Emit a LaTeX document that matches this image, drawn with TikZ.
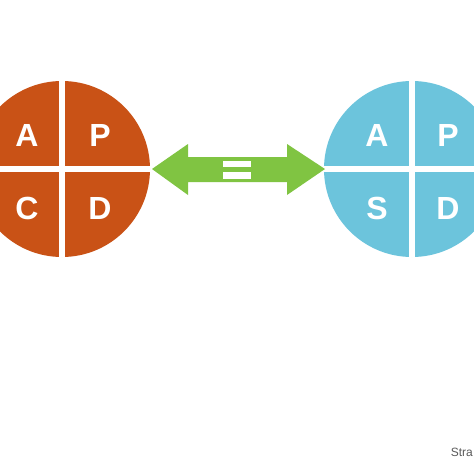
\documentclass[tikz,border=0pt]{standalone}
\usepackage{fontspec}
\setmainfont{Liberation Sans}
\definecolor{pdcaorange}{RGB}{201,82,22}
\definecolor{pdcablue}{RGB}{108,196,220}
\definecolor{pdcagreen}{RGB}{128,196,66}
\definecolor{srcgray}{RGB}{90,90,90}
\begin{document}
\begin{tikzpicture}[x=1pt,y=-1pt,
  disc/.style={circle,inner sep=0pt,minimum size=176pt},
  letter/.style={text=white,font=\fontsize{32}{32}\selectfont\bfseries},
  gap/.style={white,line width=6pt}]
\useasboundingbox (0,0) rectangle (474,474);
\clip (0,0) rectangle (474,474);
\fill[white] (0,0) rectangle (474,474);
% left circle
\node[disc,fill=pdcaorange] (L) at (62,169) {};
\draw[gap] (L.north) -- (L.south);
\draw[gap] (L.west) -- (L.east);
\node[letter] (LA) at (27,135) {A};
\node[letter] (LP) at (100,135) {P};
\node[letter] (LC) at (27,208) {C};
\node[letter] (LD) at (100,208) {D};
% right circle
\node[disc,fill=pdcablue] (R) at (412,169) {};
\draw[gap] (R.north) -- (R.south);
\draw[gap] (R.west) -- (R.east);
\node[letter] (RA) at (377,135) {A};
\node[letter] (RP) at (448,135) {P};
\node[letter] (RS) at (377,208) {S};
\node[letter] (RD) at (448,208) {D};
% double arrow
\coordinate (tipL) at (152,169);
\coordinate (tipR) at (325,169);
\fill[pdcagreen] (tipL) -- (188,144) -- (188,157) -- (287,157) -- (287,144)
  -- (tipR) -- (287,195) -- (287,182) -- (188,182) -- (188,195) -- cycle;
\fill[white] (223,161) rectangle (251,167);
\fill[white] (223,172) rectangle (251,179);
% source text
\node[anchor=east,text=srcgray,font=\fontsize{12}{12}\selectfont,inner sep=0pt] (src) at (473,452) {Stra};
\end{tikzpicture}
\end{document}
